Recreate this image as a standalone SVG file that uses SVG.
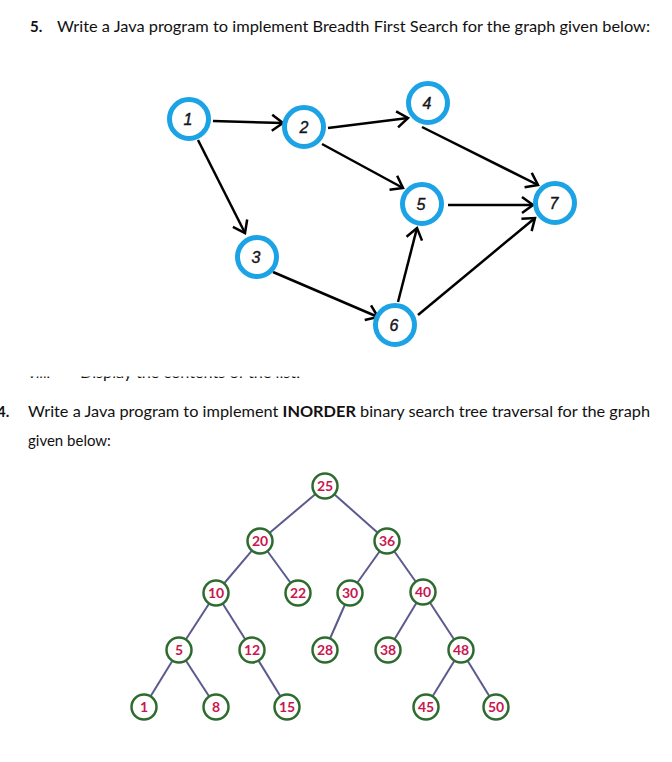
<svg xmlns="http://www.w3.org/2000/svg" width="672" height="762" viewBox="0 0 672 762">
<defs>
<marker id="chev" markerUnits="userSpaceOnUse" markerWidth="20" markerHeight="20" refX="0" refY="0" viewBox="-14 -10 16 20" orient="auto" overflow="visible">
<path d="M-11,-8 L0,0 L-11,8" fill="none" stroke="#000" stroke-width="2.5"/>
</marker>
<clipPath id="cut"><rect x="0" y="376.5" width="672" height="5"/></clipPath>
</defs>
<style>
.doc{font-family:"Lato","Liberation Sans",sans-serif;font-size:15px;fill:#111}
.b{font-weight:bold}
.gn circle{fill:#fff;stroke:#1ba3e6;stroke-width:5}
.gn text{font-family:"Liberation Sans",sans-serif;font-style:italic;font-size:16px;fill:#151520;stroke:#151520;stroke-width:0.4;text-anchor:middle}
.ge line{stroke:#000;stroke-width:2.5;marker-end:url(#chev)}
.te line{stroke:#5b5a8e;stroke-width:2}
.tn circle{fill:#fff;stroke:#2e6b2e;stroke-width:2.5}
.tn text{font-family:"Lato","Liberation Sans",sans-serif;font-weight:bold;font-size:14px;fill:#c8174f;text-anchor:middle}
</style>
<rect width="672" height="762" fill="#fff"/>

<text class="doc" x="30" y="32"><tspan class="b">5.</tspan></text>
<text class="doc" x="57" y="32" textLength="593" lengthAdjust="spacingAndGlyphs">Write a Java program to implement Breadth First Search for the graph given below:</text>

<text class="doc" x="28" y="378" clip-path="url(#cut)">viii.</text>
<text class="doc" x="80" y="378" clip-path="url(#cut)" textLength="220" lengthAdjust="spacingAndGlyphs">Display the contents of the list.</text>

<text class="doc" x="-3" y="417"><tspan class="b">4.</tspan></text>
<text class="doc" x="28" y="417" textLength="622" lengthAdjust="spacingAndGlyphs">Write a Java program to implement <tspan class="b">INORDER</tspan> binary search tree traversal for the graph</text>
<text class="doc" x="28" y="446">given below:</text>

<g id="graph-edges" class="ge">
<line x1="213" y1="121" x2="283" y2="123"/>
<line x1="328" y1="128" x2="408" y2="118"/>
<line x1="322" y1="144" x2="403" y2="188"/>
<line x1="198" y1="140" x2="245" y2="233"/>
<line x1="273" y1="272" x2="378" y2="317"/>
<line x1="398" y1="302" x2="417" y2="228"/>
<line x1="448" y1="205" x2="533" y2="205"/>
<line x1="418" y1="315" x2="535" y2="218"/>
<line x1="422" y1="127" x2="538" y2="185"/>
</g>

<g id="g1" class="gn"><circle cx="189" cy="119" r="19.5"/><text x="188" y="125">1</text></g>
<g id="g2" class="gn"><circle cx="304" cy="127" r="19.5"/><text x="304" y="133">2</text></g>
<g id="g4" class="gn"><circle cx="428" cy="103" r="19.5"/><text x="427" y="109">4</text></g>
<g id="g5" class="gn"><circle cx="422" cy="204" r="19.5"/><text x="421" y="210">5</text></g>
<g id="g7" class="gn"><circle cx="555" cy="203" r="19.5"/><text x="554" y="209">7</text></g>
<g id="g3" class="gn"><circle cx="257" cy="257" r="19.5"/><text x="256" y="263">3</text></g>
<g id="g6" class="gn"><circle cx="395" cy="325" r="19.5"/><text x="394" y="331">6</text></g>

<g id="tree-edges" class="te">
<line x1="325" y1="486" x2="260" y2="541"/>
<line x1="325" y1="486" x2="387" y2="541"/>
<line x1="260" y1="541" x2="216" y2="593"/>
<line x1="260" y1="541" x2="298" y2="593"/>
<line x1="387" y1="541" x2="350" y2="593"/>
<line x1="387" y1="541" x2="423" y2="592"/>
<line x1="216" y1="593" x2="179" y2="650"/>
<line x1="216" y1="593" x2="252" y2="650"/>
<line x1="350" y1="593" x2="325" y2="650"/>
<line x1="423" y1="592" x2="388" y2="650"/>
<line x1="423" y1="592" x2="461" y2="650"/>
<line x1="179" y1="650" x2="144" y2="707"/>
<line x1="179" y1="650" x2="216" y2="707"/>
<line x1="252" y1="650" x2="287" y2="707"/>
<line x1="461" y1="650" x2="426" y2="707"/>
<line x1="461" y1="650" x2="496" y2="707"/>
</g>

<g id="t25" class="tn"><circle cx="325" cy="486" r="12.5"/><text x="325" y="491">25</text></g>
<g id="t20" class="tn"><circle cx="260" cy="541" r="12.5"/><text x="260" y="546">20</text></g>
<g id="t36" class="tn"><circle cx="387" cy="541" r="12.5"/><text x="387" y="546">36</text></g>
<g id="t10" class="tn"><circle cx="216" cy="593" r="12.5"/><text x="216" y="598">10</text></g>
<g id="t22" class="tn"><circle cx="298" cy="593" r="12.5"/><text x="298" y="598">22</text></g>
<g id="t30" class="tn"><circle cx="350" cy="593" r="12.5"/><text x="350" y="598">30</text></g>
<g id="t40" class="tn"><circle cx="423" cy="592" r="12.5"/><text x="423" y="597">40</text></g>
<g id="t5" class="tn"><circle cx="179" cy="650" r="12.5"/><text x="179" y="655">5</text></g>
<g id="t12" class="tn"><circle cx="252" cy="650" r="12.5"/><text x="252" y="655">12</text></g>
<g id="t28" class="tn"><circle cx="325" cy="650" r="12.5"/><text x="325" y="655">28</text></g>
<g id="t38" class="tn"><circle cx="388" cy="650" r="12.5"/><text x="388" y="655">38</text></g>
<g id="t48" class="tn"><circle cx="461" cy="650" r="12.5"/><text x="461" y="655">48</text></g>
<g id="t1" class="tn"><circle cx="144" cy="707" r="12.5"/><text x="144" y="712">1</text></g>
<g id="t8" class="tn"><circle cx="216" cy="707" r="12.5"/><text x="216" y="712">8</text></g>
<g id="t15" class="tn"><circle cx="287" cy="707" r="12.5"/><text x="287" y="712">15</text></g>
<g id="t45" class="tn"><circle cx="426" cy="707" r="12.5"/><text x="426" y="712">45</text></g>
<g id="t50" class="tn"><circle cx="496" cy="707" r="12.5"/><text x="496" y="712">50</text></g>
</svg>
